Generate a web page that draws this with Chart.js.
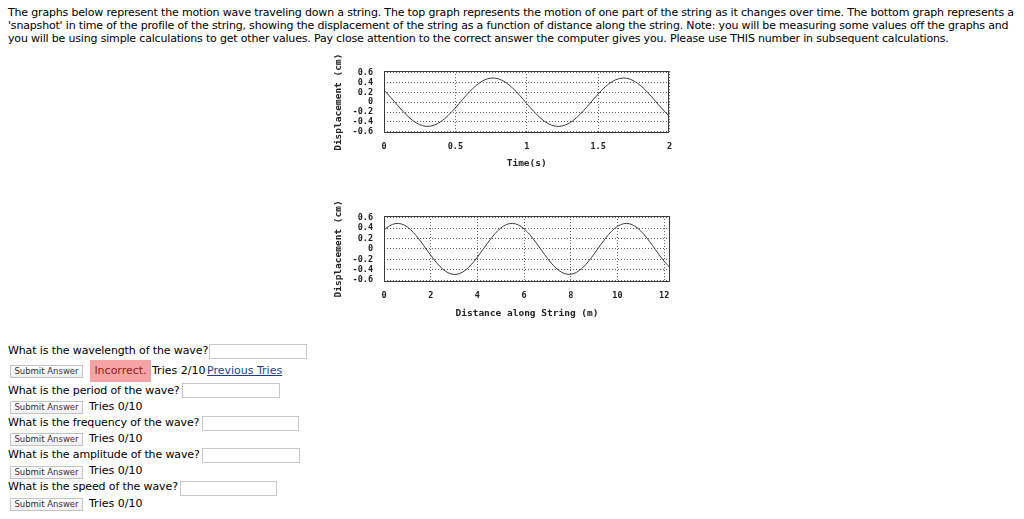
<!DOCTYPE html>
<html>
<head>
<meta charset="utf-8">
<script src="https://cdn.jsdelivr.net/npm/chart.js@4"></script>
<style>
  html, body { margin:0; padding:0; background:#fff; }
  body { width:1024px; height:519px; position:relative; overflow:hidden;
         font-family:"DejaVu Sans", Verdana, sans-serif; font-size:11px; color:#000; }
  .ln { position:absolute; left:8px; white-space:nowrap; line-height:13px; letter-spacing:-0.175px; }
  .q  { position:absolute; left:8px; white-space:nowrap; line-height:14px; letter-spacing:-0.12px; }
  .inp { position:absolute; box-sizing:border-box; border:1px solid #c8c8c8; background:#fff; }
  .btn { position:absolute; left:10px; width:73px; height:13px; box-sizing:border-box;
         border:1px solid #c4c4c4; background:linear-gradient(#ffffff,#efefef);
         font-size:8.5px; color:#333; text-align:center; line-height:11px; }
  .st { position:absolute; white-space:nowrap; line-height:14px; }
  .bad { position:absolute; left:90px; width:61px; background:#f7a3a6; color:#8e1b1f;
         text-align:center; }
  a { color:#1b3f8b; text-decoration:underline; }
  .cv { position:absolute; left:330px; }
</style>
</head>
<body>
<div class="ln" style="top:6px">The graphs below represent the motion wave traveling down a string. The top graph represents the motion of one part of the string as it changes over time. The bottom graph represents a</div>
<div class="ln" style="top:19px">'snapshot' in time of the profile of the string, showing the displacement of the string as a function of distance along the string. Note: you will be measuring some values off the graphs and</div>
<div class="ln" style="top:32px">you will be using simple calculations to get other values. Pay close attention to the correct answer the computer gives you. Please use THIS number in subsequent calculations.</div>

<canvas id="c1" class="cv" style="top:55px" width="350" height="120"></canvas>
<canvas id="c2" class="cv" style="top:200px" width="350" height="125"></canvas>

<div class="q" style="top:344px">What is the wavelength of the wave?</div>
<div class="inp" style="left:209px;top:344px;width:98px;height:15px"></div>
<div class="btn" style="top:365px">Submit Answer</div>
<div class="st bad" style="top:360px;height:22px;line-height:22px">Incorrect.</div>
<div class="st" style="left:152px;top:364px">Tries 2/10</div>
<div class="st" style="left:207px;top:364px"><a>Previous Tries</a></div>

<div class="q" style="top:384px">What is the period of the wave?</div>
<div class="inp" style="left:182px;top:383px;width:98px;height:15px"></div>
<div class="btn" style="top:401px">Submit Answer</div>
<div class="st" style="left:89px;top:400px">Tries 0/10</div>

<div class="q" style="top:416px">What is the frequency of the wave?</div>
<div class="inp" style="left:202px;top:416px;width:97px;height:15px"></div>
<div class="btn" style="top:433px">Submit Answer</div>
<div class="st" style="left:89px;top:432px">Tries 0/10</div>

<div class="q" style="top:448px">What is the amplitude of the wave?</div>
<div class="inp" style="left:202px;top:448px;width:98px;height:15px"></div>
<div class="btn" style="top:466px">Submit Answer</div>
<div class="st" style="left:89px;top:464px">Tries 0/10</div>

<div class="q" style="top:480px">What is the speed of the wave?</div>
<div class="inp" style="left:180px;top:481px;width:97px;height:15px"></div>
<div class="btn" style="top:498px">Submit Answer</div>
<div class="st" style="left:89px;top:497px">Tries 0/10</div>

<script>
// ---- data ----
const timeS = [0,0.05,0.1,0.15,0.2,0.25,0.3,0.35,0.4,0.45,0.5,0.55,0.6,0.65,0.7,0.75,0.8,0.85,0.9,0.95,
  1,1.05,1.1,1.15,1.2,1.25,1.3,1.35,1.4,1.45,1.5,1.55,1.6,1.65,1.7,1.75,1.8,1.85,1.9,1.95,2];
const dispVsTime = [0.245,0.088,-0.079,-0.237,-0.368,-0.455,-0.490,-0.467,-0.390,-0.268,-0.114,0.053,0.213,
  0.349,0.445,0.488,0.475,0.406,0.290,0.140,-0.026,-0.189,-0.330,-0.433,-0.485,-0.480,-0.420,-0.311,-0.165,
  -0.001,0.164,0.310,0.420,0.480,0.485,0.433,0.331,0.190,0.027,-0.139,-0.289];

const distM = [0,0.25,0.5,0.75,1,1.25,1.5,1.75,2,2.25,2.5,2.75,3,3.25,3.5,3.75,4,4.25,4.5,4.75,5,5.25,5.5,5.75,
  6,6.25,6.5,6.75,7,7.25,7.5,7.75,8,8.25,8.5,8.75,9,9.25,9.5,9.75,10,10.25,10.5,10.75,11,11.25,11.5,11.75,12,12.25];
const dispVsDist = [0.361,0.447,0.487,0.478,0.421,0.320,0.187,0.034,-0.121,-0.265,-0.381,-0.459,-0.490,-0.471,
  -0.403,-0.296,-0.158,-0.003,0.152,0.291,0.401,0.469,0.490,0.461,0.385,0.270,0.127,-0.028,-0.181,-0.316,-0.417,
  -0.477,-0.488,-0.449,-0.366,-0.245,-0.097,0.060,0.210,0.340,0.433,0.483,0.484,0.436,0.343,0.215,0.066,-0.091,
  -0.238,-0.361];

const yTickVals = [-0.6,-0.4,-0.2,0,0.2,0.4,0.6];
const timeTickVals = [0,0.5,1,1.5,2];
const distTickVals = [0,2,4,6,8,10,12];
const yTitle = 'Displacement (cm)';
const timeTitle = 'Time(s)';
const distTitle = 'Distance along String (m)';

const boxPlugin = {
  id:'box',
  afterDraw(chart){
    const a = chart.chartArea, ctx = chart.ctx;
    ctx.save();
    ctx.strokeStyle = '#3a3a3a';
    ctx.lineWidth = 1;
    ctx.strokeRect(Math.round(a.left)+0.5, Math.round(a.top)+0.5,
                   Math.round(a.right-a.left)-1, Math.round(a.bottom-a.top)-1);
    ctx.restore();
  }
};

function makeChart(id, xs, ys, xTicks, xMax, xTitle, padTop, xAxisH, xTickPad){
  const tickFont = {family:'"DejaVu Sans Mono", monospace', size:8.5, weight:'bold'};
  const titleFont = {family:'"DejaVu Sans Mono", monospace', size:9.5, weight:'bold'};
  const grid = {color:'rgba(0,0,0,0.65)', lineWidth:1, drawTicks:false};
  return new Chart(document.getElementById(id), {
    type:'scatter',
    data:{ datasets:[{
      data: xs.map((x,i)=>({x:x, y:ys[i]})),
      showLine:true, borderColor:'#3c3c3c', borderWidth:1, pointRadius:0,
      tension:0.35, fill:false
    }]},
    options:{
      responsive:false, animation:false, devicePixelRatio:1,
      layout:{padding:{left:0, right:10, top:padTop, bottom:0}},
      plugins:{legend:{display:false}, tooltip:{enabled:false}},
      scales:{
        x:{
          type:'linear', min:0, max:xMax,
          afterBuildTicks:s=>{ s.ticks = xTicks.map(v=>({value:v})); },
          afterFit:s=>{ s.height = xAxisH; },
          ticks:{font:tickFont, color:'#222', padding:xTickPad, maxRotation:0,
                 autoSkip:false, callback:v=>String(v)},
          grid:grid, border:{display:false, dash:[1,2]},
          title:{display:true, text:xTitle, font:titleFont, color:'#222',
                 padding:{top:0,bottom:6}}
        },
        y:{
          type:'linear', min:-0.63, max:0.63,
          afterBuildTicks:s=>{ s.ticks = yTickVals.map(v=>({value:v})); },
          afterFit:s=>{ s.width = 54; },
          ticks:{font:tickFont, color:'#222', padding:11, autoSkip:false,
                 callback:v=>String(v)},
          grid:grid, border:{display:false, dash:[1,2]},
          title:{display:true, text:yTitle, font:titleFont, color:'#222',
                 padding:{top:3,bottom:0}}
        }
      }
    },
    plugins:[boxPlugin]
  });
}

makeChart('c1', timeS, dispVsTime, timeTickVals, 2, timeTitle, 12, 41.7, 8);
makeChart('c2', distM, dispVsDist, distTickVals, 12.25, distTitle, 15, 43.3, 9);
</script>
</body>
</html>
